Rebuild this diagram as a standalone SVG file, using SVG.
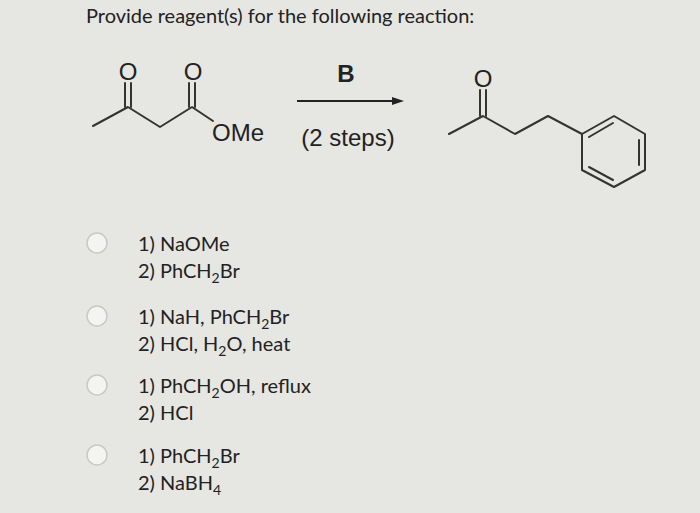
<svg xmlns="http://www.w3.org/2000/svg" width="700" height="513" viewBox="0 0 700 513">
<style>
.t{font-family:"Lato","Open Sans",sans-serif;fill:#222;font-size:20px}
.c{font-family:"Liberation Sans",Arial,sans-serif;fill:#222;font-size:24px}
.b{stroke:#333;stroke-width:2;fill:none;stroke-linecap:round;stroke-linejoin:round}
.r{fill:#f4f4f2;stroke:#c8c8c6;stroke-width:1.5}
</style>
<rect width="700" height="513" fill="#e6e6e3"/>
<text class="t" x="86" y="23" font-size="21.5">Provide reagent(s) for the following reaction:</text>
<g id="reactant">
<polyline class="b" points="93,126 128,107 160,127 192,107 213,121"/>
<line class="b" x1="125" y1="107" x2="125" y2="83"/><line class="b" x1="131" y1="107" x2="131" y2="83"/>
<line class="b" x1="189" y1="107" x2="189" y2="83"/><line class="b" x1="195" y1="107" x2="195" y2="83"/>
<text class="c" x="128" y="80" text-anchor="middle">O</text>
<text class="c" x="193" y="80" text-anchor="middle">O</text>
<text class="c" x="212" y="141">OMe</text>
</g>
<g id="arrow">
<line x1="297" y1="101" x2="396" y2="101" stroke="#222" stroke-width="2"/>
<polygon points="404,101 392,97 392,105" fill="#222"/>
<text class="c" x="346" y="82" text-anchor="middle" font-weight="bold">B</text>
<text class="c" x="348" y="146" text-anchor="middle">(2 steps)</text>
</g>
<g id="product">
<polyline class="b" points="449,134 483,116 515,134 548,116 582,134"/>
<line class="b" x1="480" y1="116" x2="480" y2="90"/><line class="b" x1="486" y1="116" x2="486" y2="90"/>
<text class="c" x="483" y="87" text-anchor="middle">O</text>
<polygon class="b" points="582,134 614,116 645,134 645,170 614,187 582,170"/>
<line class="b" x1="589" y1="137" x2="613" y2="123"/>
<line class="b" x1="639" y1="140" x2="639" y2="165"/>
<line class="b" x1="589" y1="167" x2="613" y2="180"/>
</g>
<g id="options">
<circle class="r" cx="97" cy="243" r="10"/>
<circle class="r" cx="97" cy="316" r="10"/>
<circle class="r" cx="97" cy="385" r="10"/>
<circle class="r" cx="97" cy="455" r="10"/>
<text class="t" x="138" y="251">1) NaOMe</text>
<text class="t" x="138" y="278">2) PhCH<tspan font-size="14" dy="5">2</tspan><tspan dy="-5">Br</tspan></text>
<text class="t" x="138" y="324">1) NaH, PhCH<tspan font-size="14" dy="5">2</tspan><tspan dy="-5">Br</tspan></text>
<text class="t" x="138" y="351">2) HCl, H<tspan font-size="14" dy="5">2</tspan><tspan dy="-5">O, heat</tspan></text>
<text class="t" x="138" y="393">1) PhCH<tspan font-size="14" dy="5">2</tspan><tspan dy="-5">OH, reflux</tspan></text>
<text class="t" x="138" y="420">2) HCl</text>
<text class="t" x="138" y="463">1) PhCH<tspan font-size="14" dy="5">2</tspan><tspan dy="-5">Br</tspan></text>
<text class="t" x="138" y="490">2) NaBH<tspan font-size="14" dy="5">4</tspan></text>
</g>
</svg>
